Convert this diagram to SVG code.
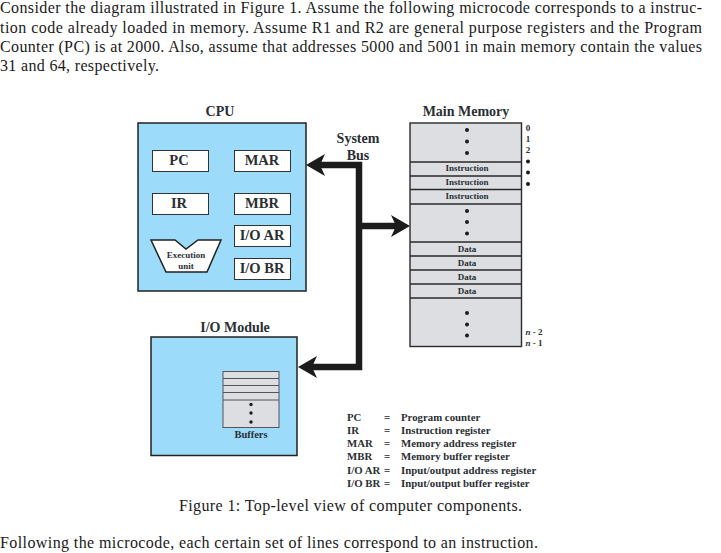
<svg xmlns="http://www.w3.org/2000/svg" width="721" height="553" viewBox="0 0 721 553">
<style>
text{font-family:"Liberation Serif","DejaVu Serif",serif;fill:#1a1a1a}
.p{font-size:16px}
.h{font-size:14px;font-weight:bold;fill:#2a2f33;text-anchor:middle}
.r{font-size:14.5px;font-weight:bold;fill:#2a2f33;text-anchor:middle}
.m{font-size:9px;font-weight:bold;fill:#2a2f33;text-anchor:middle}
.l{font-size:10.8px;font-weight:bold;fill:#2a2f33}
.blue{fill:#9cdbf9;stroke:#222;stroke-width:1.5}
.reg{fill:#fff;stroke:#333;stroke-width:1}
.gray{fill:#dcdee1;stroke:#2a2a2a;stroke-width:1.4}
.line{stroke:#2a2a2a;stroke-width:1.4;fill:none}
.thin{stroke:#555;stroke-width:1;fill:none}
.bus{stroke:#1c1c1c;stroke-width:6.500;fill:none}
.head{fill:#1c1c1c}
.dot{fill:#1c1c1c}
</style>
<rect width="721" height="553" fill="#fff"/>
<g id="prose">
<text class="p" x="0" y="13" textLength="702" lengthAdjust="spacing">Consider the diagram illustrated in Figure 1. Assume the following microcode corresponds to a instruc-</text>
<text class="p" x="0" y="33" textLength="702" lengthAdjust="spacing">tion code already loaded in memory. Assume R1 and R2 are general purpose registers and the Program</text>
<text class="p" x="0" y="52" textLength="702" lengthAdjust="spacing">Counter (PC) is at 2000. Also, assume that addresses 5000 and 5001 in main memory contain the values</text>
<text class="p" x="0" y="71" textLength="159" lengthAdjust="spacing">31 and 64, respectively.</text>
<text class="p" x="179" y="511" textLength="343" lengthAdjust="spacing">Figure 1: Top-level view of computer components.</text>
<text class="p" x="0" y="548" textLength="538" lengthAdjust="spacing">Following the microcode, each certain set of lines correspond to an instruction.</text>
</g>
<g id="connectors">
<path class="bus" d="M316 165H359V367H308"/>
<path class="bus" d="M359 226H400"/>
<path class="head" d="M306 165L325 154L320 165L325 176Z"/>
<path class="head" d="M410 226L391 215L396 226L391 237Z"/>
<path class="head" d="M298 367L317 356L312 367L317 378Z"/>
</g>
<g id="bus-label">
<text class="h" x="358" y="143">System</text>
<text class="h" x="358" y="160">Bus</text>
</g>
<g id="cpu">
<text class="h" x="220" y="116">CPU</text>
<rect class="blue" x="138" y="123" width="168" height="168"/>
</g>
<g id="pc"><rect class="reg" x="152.500" y="150.500" width="56" height="21"/><text class="r" x="179" y="165">PC</text></g>
<g id="mar"><rect class="reg" x="234.500" y="150.500" width="56" height="21"/><text class="r" x="262" y="165">MAR</text></g>
<g id="ir"><rect class="reg" x="152.500" y="193.500" width="56" height="21"/><text class="r" x="179" y="208">IR</text></g>
<g id="mbr"><rect class="reg" x="234.500" y="193.500" width="56" height="21"/><text class="r" x="262" y="208">MBR</text></g>
<g id="ioar"><rect class="reg" x="234.500" y="225.500" width="56" height="21"/><text class="r" x="262" y="240">I/O AR</text></g>
<g id="iobr"><rect class="reg" x="234.500" y="258.500" width="56" height="21"/><text class="r" x="262" y="273">I/O BR</text></g>
<g id="execution-unit">
<path d="M151 240H175L186 249L198 240H221L207 272H166Z" fill="#fff" stroke="#222" stroke-width="1.500"/>
<text class="m" x="186" y="258">Execution</text>
<text class="m" x="186" y="269">unit</text>
</g>
<g id="main-memory">
<text class="h" x="466" y="116">Main Memory</text>
<rect class="gray" x="410" y="123" width="111.500" height="223.500"/>
<path class="line" d="M410 162H521.500M410 176H521.500M410 189.500H521.500M410 204H521.500M410 242H521.500M410 256H521.500M410 270H521.500M410 284H521.500M410 298H521.500"/>
<g class="dot"><circle cx="467" cy="130" r="2"/><circle cx="467" cy="141.500" r="2"/><circle cx="467" cy="153" r="2"/><circle cx="467" cy="211" r="2"/><circle cx="467" cy="222" r="2"/><circle cx="467" cy="233.500" r="2"/><circle cx="467" cy="313" r="2"/><circle cx="467" cy="324.500" r="2"/><circle cx="467" cy="335.500" r="2"/></g>
<text class="m" x="467" y="170.500">Instruction</text>
<text class="m" x="467" y="184.500">Instruction</text>
<text class="m" x="467" y="198.500">Instruction</text>
<text class="m" x="467" y="251.500">Data</text>
<text class="m" x="467" y="265.500">Data</text>
<text class="m" x="467" y="279.500">Data</text>
<text class="m" x="467" y="293.500">Data</text>
<text class="m" x="528" y="131">0</text>
<text class="m" x="528" y="142">1</text>
<text class="m" x="528" y="153">2</text>
<g class="dot"><circle cx="528" cy="161.500" r="2"/><circle cx="528" cy="172.500" r="2"/><circle cx="528" cy="184" r="2"/></g>
<text class="m" x="534" y="335"><tspan font-style="italic">n</tspan> - 2</text>
<text class="m" x="534" y="346"><tspan font-style="italic">n</tspan> - 1</text>
</g>
<g id="io-module">
<text class="h" x="235" y="332">I/O Module</text>
<rect class="blue" x="151" y="337" width="146" height="118.500"/>
</g>
<g id="buffers">
<rect x="223" y="371.500" width="56" height="56" fill="#dcdee1" stroke="#555"/>
<path class="thin" d="M223 378.500H279M223 385.500H279M223 392.500H279M223 400H279"/>
<g class="dot"><circle cx="251" cy="404.500" r="1.700"/><circle cx="251" cy="413" r="1.700"/><circle cx="251" cy="422" r="1.700"/></g>
<text class="l" x="251" y="438" text-anchor="middle" style="font-size:10.500px">Buffers</text>
</g>
<g id="legend">
<text class="l" x="347" y="421">PC</text><text class="l" x="384" y="421">=</text><text class="l" x="401" y="421">Program counter</text>
<text class="l" x="347" y="434">IR</text><text class="l" x="384" y="434">=</text><text class="l" x="401" y="434">Instruction register</text>
<text class="l" x="347" y="447">MAR</text><text class="l" x="384" y="447">=</text><text class="l" x="401" y="447">Memory address register</text>
<text class="l" x="347" y="460">MBR</text><text class="l" x="384" y="460">=</text><text class="l" x="401" y="460">Memory buffer register</text>
<text class="l" x="347" y="474">I/O AR</text><text class="l" x="384" y="474">=</text><text class="l" x="401" y="474">Input/output address register</text>
<text class="l" x="347" y="487">I/O BR</text><text class="l" x="384" y="487">=</text><text class="l" x="401" y="487">Input/output buffer register</text>
</g>
</svg>
